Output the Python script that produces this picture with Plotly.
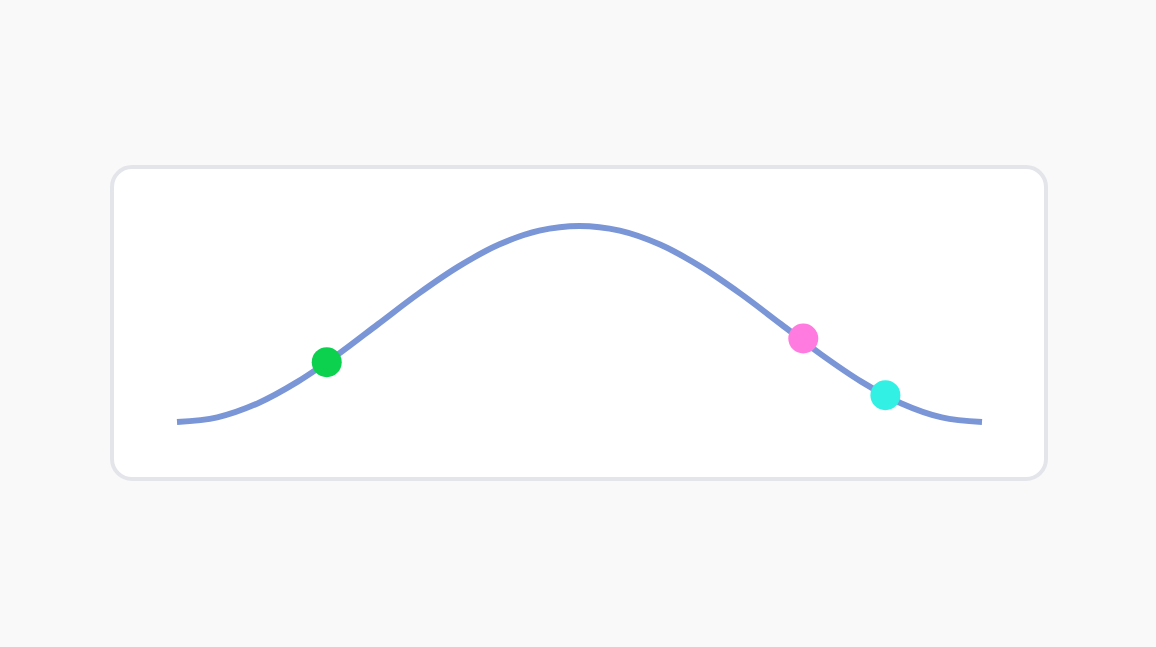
import plotly.graph_objects as go

# curve (time 0..1, eased value 0..1)
curve_t = [0.0, 0.05, 0.1, 0.15, 0.2, 0.25, 0.3, 0.35, 0.4, 0.45, 0.5,
           0.55, 0.6, 0.65, 0.7, 0.75, 0.8, 0.85, 0.9, 0.95, 1.0]
curve_v = [0.0, 0.024, 0.095, 0.206, 0.345, 0.5, 0.655, 0.794, 0.905, 0.976, 1.0,
           0.976, 0.905, 0.794, 0.655, 0.5, 0.345, 0.206, 0.095, 0.024, 0.0]

# highlighted points
point_t = [0.186, 0.778, 0.880]
point_v = [0.305, 0.426, 0.137]
point_colours = ["#0bd14f", "#ff7be0", "#33f0e4"]

W, H = 1156, 647
box_l, box_r, box_t, box_b = 112, 1046, 167, 479
plot_w, plot_h = box_r - box_l, box_b - box_t

fig = go.Figure()

fig.add_trace(go.Scatter(x=curve_t, y=curve_v, mode="lines",
                         line=dict(color="#7b96d6", width=6, shape="spline", smoothing=1.0),
                         hoverinfo="skip"))

fig.add_trace(go.Scatter(x=point_t, y=point_v, mode="markers",
                         marker=dict(color=point_colours, size=30, line=dict(width=0)),
                         hoverinfo="skip"))

# rounded card around the plot area (paper coords = plot area)
r = 20
rx, ry = r / plot_w, r / plot_h
k = 0.448
card = (f"M {rx},0 L {1-rx},0 "
        f"C {1-rx*k},0 1,{ry*k} 1,{ry} "
        f"L 1,{1-ry} "
        f"C 1,{1-ry*k} {1-rx*k},1 {1-rx},1 "
        f"L {rx},1 "
        f"C {rx*k},1 0,{1-ry*k} 0,{1-ry} "
        f"L 0,{ry} "
        f"C 0,{ry*k} {rx*k},0 {rx},0 Z")
fig.add_shape(type="path", path=card, xref="paper", yref="paper",
              line=dict(color="#e4e5ea", width=4), fillcolor="white", layer="below")

# map t=0 -> 177px, t=1 -> 982px ; v=0 -> 422px, v=1 -> 226px
sx = 982 - 177
x0 = -(177 - box_l) / sx
x1 = x0 + plot_w / sx
sy = 422 - 226
y0 = -(box_b - 422) / sy
y1 = y0 + plot_h / sy

fig.update_layout(
    width=W, height=H,
    margin=dict(l=box_l, r=W - box_r, t=box_t, b=H - box_b, pad=0),
    paper_bgcolor="#f9f9f9",
    plot_bgcolor="rgba(0,0,0,0)",
    showlegend=False,
    xaxis=dict(range=[x0, x1], visible=False, fixedrange=True),
    yaxis=dict(range=[y0, y1], visible=False, fixedrange=True),
)

fig.write_html("out.html", config={"displayModeBar": False},
               post_script="document.body.style.margin='0';"
                           "document.body.style.overflow='hidden';"
                           "document.body.style.background='#f9f9f9';")
